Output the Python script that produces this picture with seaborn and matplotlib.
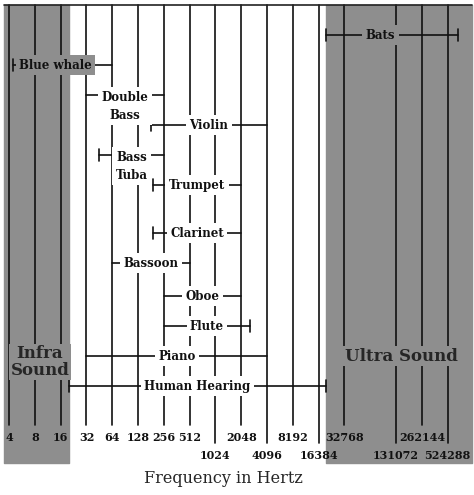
import numpy as np
import seaborn as sns
import matplotlib.pyplot as plt

sns.set_style('white')
plt.rcParams['font.family'] = ['DejaVu Serif']

# frequency grid lines (Hz)
freqs = [4, 8, 16, 32, 64, 128, 256, 512, 1024, 2048, 4096, 8192, 16384,
         32768, 131072, 262144, 524288]
low_row = [1024, 4096, 16384, 131072, 524288]

# sound sources: name, low Hz, high Hz, row
names = ['Bats', 'Blue whale', 'Double\nBass', 'Violin', 'Bass\nTuba', 'Trumpet',
         'Clarinet', 'Bassoon', 'Oboe', 'Flute', 'Piano', 'Human Hearing']
lows = [20000, 4.5, 32, 180, 45, 190, 190, 64, 256, 256, 32, 20]
highs = [700000, 64, 256, 4096, 256, 2048, 2048, 512, 2048, 2600, 4096, 20000]
rows = [1, 2, 3, 4, 5, 6, 7.6, 8.6, 9.7, 10.7, 11.7, 12.7]

gray = '#8e8e8e'
fig = plt.figure(figsize=(4.74, 4.95), dpi=100)
ax = fig.add_axes([0, 0, 1, 1])
ax.set_xscale('log', base=2)
ax.set_xlim(2 ** 1.65, 2 ** 20.02)
ax.set_ylim(16.33, -0.17)
ax.axis('off')

# infra / ultra sound bands
ax.fill_between([2 ** 1.8, 20], 0, 15.27, color=gray, zorder=0)
ax.fill_between([20000, 2 ** 19.95], 0, 15.27, color=gray, zorder=0)
ax.plot([2 ** 1.8, 2 ** 19.95], [0, 0], color='#222', lw=1.2)

for f in freqs:
    end = 14.6 if f in low_row else 14.0
    ax.plot([f, f], [0, end], color='#111', lw=1.2, zorder=1)
    ax.text(f, 15.0 if f in low_row else 14.4, str(f), ha='center', va='center',
            fontsize=8, fontweight='bold', color='#111', zorder=3)

for name, lo, hi, r in zip(names, lows, highs, rows):
    ax.plot([lo, hi], [r, r], color='#111', lw=1.2, zorder=2)
    for e in (lo, hi):
        if e not in freqs:
            ax.plot([e, e], [r - 0.2, r + 0.2], color='#111', lw=1.2, zorder=2)
    c = np.sqrt(lo * hi)
    if name == 'Blue whale':
        c = 14
    if name == 'Bats':
        c = 2 ** 16.4
    bg = gray if (c < 20 or c > 20000) else 'white'
    ax.text(c, r + (0.37 if '\n' in name else 0), name, ha='center', va='center',
            fontsize=8.5, fontweight='bold', color='#111', zorder=4, linespacing=1.5,
            bbox=dict(facecolor=bg, edgecolor='none', pad=2.5))

ax.text(2 ** 3.2, 11.9, 'Infra\nSound', ha='center', va='center', fontsize=12,
        fontweight='bold', linespacing=1.0, zorder=4,
        bbox=dict(facecolor=gray, edgecolor='none', pad=1))
ax.text(2 ** 17.2, 11.7, 'Ultra Sound', ha='center', va='center', fontsize=12,
        fontweight='bold', zorder=4, bbox=dict(facecolor=gray, edgecolor='none', pad=1))

ax.text(2 ** 10.3, 15.77, 'Frequency in Hertz', ha='center', va='center', fontsize=11.5)

fig.savefig('out.png', dpi=100)
